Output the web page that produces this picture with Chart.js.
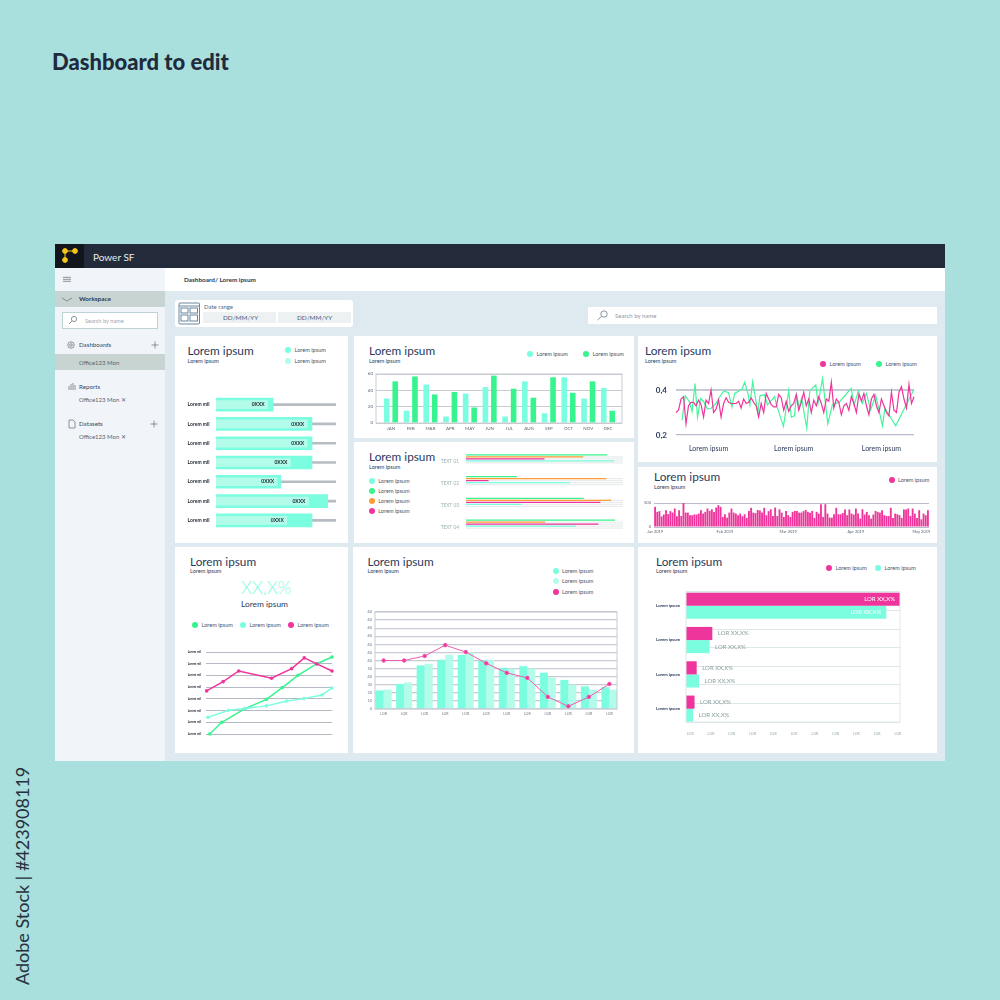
<!DOCTYPE html>
<html>
<head>
<meta charset="utf-8">
<script src="https://cdn.jsdelivr.net/npm/chart.js@4"></script>
<style>
  html, body { margin: 0; padding: 0; }
  body { width: 1000px; height: 1000px; background: #a9dfdd; position: relative; overflow: hidden; font-family: Lato, sans-serif; }
  .box { position: absolute; }
  .txt { position: absolute; white-space: nowrap; transform: translateY(-50%); line-height: 1; }
  canvas { position: absolute; }
</style>
</head>
<body>
<script>
const MINT = '#7bfde0';
const LIGHT = '#b3fcea';
const GREEN = '#38f48e';
const PINK = '#ee359c';
const ORANGE = '#ff9c38';
const NAVY = '#2b3a5c';

// panel 1
const rowLabels = ['Lorem mil', 'Lorem mil', 'Lorem mil', 'Lorem mil', 'Lorem mil', 'Lorem mil', 'Lorem mil'];
const rowOuter = [47.5, 80, 80, 80, 54, 93, 80];
const rowInner = [43, 76, 76, 62, 51, 77, 59];
const rowTrack = [100, 100, 100, 100, 100, 100, 100];

// panel 2
const months = ['JAN', 'FEB', 'MAR', 'APR', 'MAY', 'JUN', 'JUL', 'AUG', 'SEP', 'OCT', 'NOV', 'DEC'];
const monthMint = [30, 15, 47, 8, 36, 44, 8, 51, 12, 56, 30, 43];
const monthGreen = [51, 57, 35, 38, 19, 58, 42, 31, 56, 37, 51, 15];

// panel 3
const textLabels = ['TEXT 01', 'TEXT 02', 'TEXT 03', 'TEXT 04'];
const textGreen = [90, 32.5, 75, 95];
const textOrange = [74.7, 89.4, 92.4, 50.5];
const textPink = [50, 14.4, 85.6, 84.3];
const textMint = [94.5, 66.2, 35.5, 70];
const textTrack = [100, 100, 100, 100];

// panel 4
const wavePink = [
  .30, .31, .36, .37, .25, .33, .345, .345, .33, .355,
  .335, .28, .355, .34, .40, .30, .315, .355, .28, .34,
  .365, .345, .34, .34, .34, .35, .32, .36, .34, .345,
  .365, .345, .33, .28, .34, .30, .385, .36, .335, .325,
  .325, .38, .365, .31, .35, .305, .33, .34, .38, .31,
  .345, .39, .33, .36, .30, .355, .33, .37, .34, .30,
  .36, .35, .435, .32, .36, .345, .29, .33, .34, .31,
  .37, .34, .30, .38, .35, .385, .33, .29, .36, .38,
  .33, .30, .36, .33, .30, .285, .39, .31, .30, .39,
  .415, .36, .32, .425, .34, .37
];
const waveGreenX = [2.4, 3.7, 5.3, 6.4, 7.6, 8.6, 9.8, 11, 12.5, 14, 16, 17.5, 19.1, 21, 22.3, 23.4, 26.3, 27.4, 28.7, 29.5, 30.6, 32.7, 33.5, 35.3, 36.5, 38.3, 39.3, 40.1, 42.9, 45, 46, 47.3, 48.1, 49.2, 50.1, 52.2, 53.4, 55.8, 56.7, 58.5, 60.6, 62.4, 65.1, 67.1, 69.9, 71.1, 72.8, 74.4, 76, 77.7, 79.7, 82.4, 83.4, 85, 87.7, 95];
const waveGreenY = [.265, .374, .349, .304, .429, .279, .363, .349, .315, .319, .341, .371, .396, .388, .324, .385, .403, .434, .385, .334, .437, .30, .374, .379, .334, .356, .371, .334, .238, .397, .279, .285, .378, .319, .363, .231, .397, .422, .341, .451, .25, .334, .346, .371, .407, .334, .396, .341, .385, .312, .378, .241, .319, .29, .241, .403];
const waveTicks = [13, 47, 82];

// panel 5
const dailyValues = [
  420, 315, 330, 220, 260, 350, 270, 330, 300, 385, 225, 350, 230, 500, 300, 300, 245, 245, 260, 260, 280,
  350, 280, 315, 385, 335, 370, 315, 405, 455, 420, 210, 265, 195, 300, 385, 300, 280, 245, 280, 225, 265,
  190, 335, 400, 300, 290, 355, 345, 300, 400, 245, 330, 370, 230, 405, 230, 370, 300, 210, 335, 245,
  210, 315, 335, 335, 300, 300, 330, 355, 315, 295, 335, 190, 315, 280, 475, 210, 475, 280, 195, 195, 265,
  400, 265, 265, 290, 365, 245, 365, 280, 260, 385, 280, 175, 370, 260, 315, 245, 175, 260, 335, 315, 300,
  350, 245, 230, 230, 400, 190, 280, 265, 245, 190, 365, 365, 385, 230, 385, 280, 190, 350, 160, 280, 245, 350
];
const dailyTickIndex = [0, 32, 61, 92, 122];
const dailyTickLabels = ['Jan 2019', 'Feb 2019', 'Mar 2019', 'Apr 2019', 'May 2019'];

// panel 6
const trendPinkX = [.5, 13.6, 26, 52, 68, 78, 88, 100];
const trendPinkY = [3.68, 4.47, 5.38, 4.76, 5.58, 6.5, 5.98, 5.38];
const trendGreenX = [3, 12.5, 31, 48, 60.5, 73, 88, 100];
const trendGreenY = [0, 1, 2.17, 2.96, 3.96, 5.01, 6, 6.57];
const trendMintX = [1.5, 18, 31, 48, 64, 77.7, 92, 100];
const trendMintY = [1.42, 2.02, 2.17, 2.4, 2.82, 3.02, 3.33, 3.93];

// panel 7
const comboLabels = ['LOR', 'LOR', 'LOR', 'LOR', 'LOR', 'LOR', 'LOR', 'LOR', 'LOR', 'LOR', 'LOR', 'LOR'];
const comboMint = [23, 31, 54, 61, 67, 60, 51, 53, 45, 36, 28, 27];
const comboLight = [24, 33, 56, 67, 70, 61, 50, 50, 39, 30, 24, 24];
const comboPink = [60, 60, 65.6, 79, 70.5, 56.5, 44.7, 38.5, 15, 3.3, 15, 31];
const comboTicks = ['0', '10', '20', '30', '40', '50', '60', '60', '60', '60', '60', '60', '60'];

// panel 8
const shareLabels = ['Lorem ipsum', 'Lorem ipsum', 'Lorem ipsum', 'Lorem ipsum'];
const sharePink = [100, 12.3, 5, 4];
const shareMint = [93.6, 11, 6.1, 3.3];
const shareTickValues = [2, 11.7, 21.4, 31.1, 40.8, 50.5, 60.2, 69.9, 79.6, 89.3, 99];

Chart.defaults.animation = false;
Chart.defaults.responsive = false;
Chart.defaults.font.family = 'Lato, sans-serif';
Chart.defaults.plugins.legend.display = false;
Chart.defaults.plugins.tooltip.enabled = false;

const rect = (x, y, w, h, color, extra) => {
  const el = document.createElement('div');
  el.className = 'box';
  el.style.cssText = `left:${x}px;top:${y}px;width:${w}px;height:${h}px;background:${color};${extra || ''}`;
  document.body.appendChild(el);
  return el;
};

const text = (x, y, str, size, color, extra) => {
  const el = document.createElement('div');
  el.className = 'txt';
  el.textContent = str;
  el.style.cssText = `left:${x}px;top:${y}px;font-size:${size}px;color:${color};${extra || ''}`;
  document.body.appendChild(el);
  return el;
};

const heading = (x, y) => {
  text(x, y, 'Lorem ipsum', 11.8, NAVY);
  text(x, y + 9.7, 'Lorem ipsum', 5.6, NAVY);
};

const legendItem = (x, y, color) => {
  rect(x - 3, y - 3, 6, 6, color, 'border-radius:50%');
  text(x + 6.5, y, 'Lorem ipsum', 5.6, '#45566f');
};

const makeCanvas = (x, y, w, h) => {
  const canvas = document.createElement('canvas');
  canvas.width = w;
  canvas.height = h;
  canvas.style.left = x + 'px';
  canvas.style.top = y + 'px';
  canvas.style.width = w + 'px';
  canvas.style.height = h + 'px';
  document.body.appendChild(canvas);
  return canvas.getContext('2d');
};

// axis boxes get an exact size, the label overhang must not push the plot in
const clearPadding = (axis) => {
  axis.paddingLeft = axis.paddingRight = axis.paddingTop = axis.paddingBottom = 0;
};
const fixWidth = (n) => (axis) => { axis.width = n; clearPadding(axis); };
const fixHeight = (n) => (axis) => { axis.height = n; clearPadding(axis); };
const ticksAt = (values) => (axis) => { axis.ticks = values.map((value) => ({ value })); };
const indexTicks = (list) => ticksAt(list.map((_, i) => i));

const frameBox = (color) => ({
  id: 'frameBox',
  afterDatasetsDraw(chart) {
    const { ctx, chartArea: a } = chart;
    ctx.save();
    ctx.strokeStyle = color;
    ctx.lineWidth = 1;
    ctx.strokeRect(a.left, a.top, a.right - a.left, a.bottom - a.top);
    ctx.restore();
  },
});

// page frame
text(52, 62, 'Dashboard to edit', 22, '#1f2b3d', 'font-weight:900');
text(22, 976, 'Adobe Stock | #423908119', 18, '#263040', 'transform:rotate(-90deg);transform-origin:0 50%');

rect(55, 244, 890, 24, '#232b3a');
rect(55, 244, 29, 24, '#12151b');
text(93, 257, 'Power SF', 10, '#e6ebef');
rect(165, 268, 780, 23, '#ffffff');
text(184, 279.5, 'Dashboard/ Lorem ipsum', 6.4, '#2d3a4d', 'font-weight:700');
rect(165, 291, 780, 470, '#dfeaf0');
rect(55, 268, 110, 493, '#f1f5f9');
rect(55, 291, 110, 16, '#c8d4d1');
text(79, 299, 'Workspace', 6.4, '#2d3a4d', 'font-weight:700');
rect(62, 312, 96, 17, '#ffffff', 'border:1px solid #bcd3d6;box-sizing:border-box');
text(85, 320.5, 'Search by name', 5.6, '#9aa7b0');
text(79, 345, 'Dashboards', 6.2, '#37475a');
rect(55, 353.5, 110, 16.5, '#c8d4d1');
text(79, 362.5, 'Office123 Mon', 6, '#56646f');
text(79, 387, 'Reports', 6.2, '#37475a');
text(79, 399.5, 'Office123 Mon  ✕', 6, '#56646f');
text(79, 424, 'Datasets', 6.2, '#37475a');
text(79, 436.5, 'Office123 Mon  ✕', 6, '#56646f');

// date range and search
rect(175, 300, 178, 27, '#ffffff', 'border-radius:3px');
text(204, 307, 'Date range', 6, '#4a6a8c');
rect(203, 312, 73, 11, '#eef1f2');
rect(278, 312, 73, 11, '#eef1f2');
text(223, 318, 'DD/MM/YY', 6.4, '#486080');
text(297, 318, 'DD/MM/YY', 6.4, '#486080');
rect(588, 307, 349, 17, '#ffffff');
text(615, 315.5, 'Search by name', 6, '#8c98a6');

// panels
rect(175, 336, 173, 207, '#ffffff');
rect(354, 336, 280, 102, '#ffffff');
rect(354, 442, 280, 101, '#ffffff');
rect(638, 336, 299, 126, '#ffffff');
rect(638, 467, 299, 76, '#ffffff');
rect(175, 547, 173, 206, '#ffffff');
rect(353, 547, 281, 206, '#ffffff');
rect(638, 547, 299, 206, '#ffffff');

// small icons
const ns = 'http://www.w3.org/2000/svg';
const icons = document.createElementNS(ns, 'svg');
icons.setAttribute('width', 1000);
icons.setAttribute('height', 1000);
icons.style.cssText = 'position:absolute;left:0;top:0';
icons.innerHTML = `
  <g fill="#f5c518" stroke="#f5c518"><path d="M65 251H75M65 251V260" stroke-width="1" fill="none"/><circle cx="65" cy="251" r="2.4"/><circle cx="75" cy="251" r="2.4"/><circle cx="65" cy="260" r="2.4"/></g>
  <g stroke="#6f7b86" fill="none" stroke-width="0.8">
    <path d="M63 277.3H71M63 279.3H71M63 281.3H71"/>
    <path d="M62 298L67 301L72 298"/>
    <circle cx="74" cy="319" r="2.6"/><path d="M72 321L69 324"/>
    <circle cx="71" cy="345" r="3.2"/><circle cx="71" cy="345" r="1.3"/>
    <path d="M155 341.5V348.5M151.5 345H158.5M154 420.5V427.5M150.5 424H157.5"/>
    <path d="M69 390V386M71 390V384M73 390V383M75 390V385"/>
    <path d="M69 420H73L75 422V428H69Z"/>
    <circle cx="604" cy="314" r="3.2"/><path d="M601.5 316.5L597.5 320"/>
  </g>
  <g stroke="#5b7a95" fill="none" stroke-width="0.9">
    <rect x="179" y="303" width="20.5" height="21" rx="1"/><path d="M179 306H199.5"/>
    <rect x="181" y="308" width="7" height="5"/><rect x="190" y="308" width="7.5" height="5"/>
    <rect x="181" y="315" width="7" height="6"/><rect x="190" y="315" width="7.5" height="6"/>
  </g>`;
document.body.appendChild(icons);

// panel titles and legends
heading(187.5, 351);
legendItem(288, 350, MINT);
legendItem(288, 361, LIGHT);

heading(369, 351);
legendItem(530, 353.5, MINT);
legendItem(586, 353.5, GREEN);

heading(369, 457);
legendItem(371.7, 481, MINT);
legendItem(371.7, 491, GREEN);
legendItem(371.7, 501, ORANGE);
legendItem(371.7, 511, PINK);

heading(645, 351);
legendItem(823, 363.5, PINK);
legendItem(879, 363.5, GREEN);

heading(654, 477);
legendItem(891.5, 479.5, PINK);

heading(190, 561.5);
text(241, 588, 'XX,X%', 17.5, MINT, 'font-weight:300');
text(241, 603.5, 'Lorem ipsum', 8.4, NAVY);
legendItem(195, 625, GREEN);
legendItem(243, 625, MINT);
legendItem(291, 625, PINK);

heading(367.5, 561.5);
legendItem(555.5, 571, MINT);
legendItem(555.5, 581, LIGHT);
legendItem(555.5, 591.5, PINK);

heading(656, 561.5);
legendItem(829, 567.5, PINK);
legendItem(878, 567.5, MINT);

// panel 1: horizontal progress bars
new Chart(makeCanvas(180, 395, 156, 135), {
  type: 'bar',
  data: {
    labels: rowLabels,
    datasets: [
      { data: rowInner, backgroundColor: LIGHT, barThickness: 8 },
      { data: rowOuter, backgroundColor: MINT, barThickness: 13 },
      { data: rowTrack, backgroundColor: '#b7bcc3', barThickness: 2 },
    ],
  },
  options: {
    indexAxis: 'y',
    grouped: false,
    scales: {
      x: { display: false, min: 0, max: 100 },
      y: {
        afterFit: fixWidth(36),
        grid: { display: false, drawTicks: false },
        border: { display: false },
        ticks: { padding: 6.5, font: { size: 5, weight: 'bold' }, color: '#1d2430' },
      },
    },
  },
  plugins: [{
    id: 'innerLabels',
    afterDatasetsDraw(chart) {
      const { ctx } = chart;
      ctx.save();
      ctx.font = 'bold 5px Lato';
      ctx.fillStyle = '#1d2430';
      ctx.textAlign = 'right';
      ctx.textBaseline = 'middle';
      chart.getDatasetMeta(0).data.forEach((bar) => ctx.fillText('0XXX', bar.x - 3, bar.y));
      ctx.restore();
    },
  }],
});

// panel 2: monthly grouped bars
new Chart(makeCanvas(360, 370, 264, 64), {
  type: 'bar',
  data: {
    datasets: [
      { data: monthMint.map((v, i) => ({ x: i, y: v })), backgroundColor: MINT },
      { data: monthGreen.map((v, i) => ({ x: i, y: v })), backgroundColor: GREEN },
    ],
  },
  options: {
    barPercentage: 0.66,
    categoryPercentage: 0.86,
    layout: { padding: { top: 4, right: 2 } },
    scales: {
      x: {
        type: 'linear', offset: false, min: -0.76, max: 11.71,
        afterBuildTicks: indexTicks(months),
        afterFit: fixHeight(11),
        grid: { display: false, drawTicks: false },
        border: { display: false },
        ticks: { autoSkip: false, maxRotation: 0, padding: 3, font: { size: 4.5 }, color: '#5b6774', callback: (v) => months[v] },
      },
      y: {
        min: 0, max: 60,
        afterFit: fixWidth(16),
        grid: { color: '#c8ccd1', drawTicks: false },
        border: { display: false },
        ticks: { stepSize: 10, padding: 3, font: { size: 4.5 }, color: '#5b6774' },
      },
    },
  },
  plugins: [frameBox('#c8ccd1')],
});

// panel 3: four thin bars per group over grey tracks
const trackSet = (n) => ({ data: textTrack, yAxisID: 'y2', order: 1, backgroundColor: '#e9ecec', label: 'track' + n });
new Chart(makeCanvas(438, 451, 185, 87), {
  type: 'bar',
  data: {
    labels: textLabels,
    datasets: [
      { data: textGreen, backgroundColor: GREEN, order: 0 },
      { data: textOrange, backgroundColor: ORANGE, order: 0 },
      { data: textPink, backgroundColor: PINK, order: 0 },
      { data: textMint, backgroundColor: MINT, order: 0 },
      trackSet(1), trackSet(2), trackSet(3), trackSet(4),
    ],
  },
  options: {
    indexAxis: 'y',
    barPercentage: 0.58,
    categoryPercentage: 0.74,
    scales: {
      x: { display: false, min: 0, max: 100 },
      y: {
        afterFit: fixWidth(28),
        grid: { display: false, drawTicks: false },
        border: { display: false },
        ticks: { padding: 7, font: { size: 4.8 }, color: '#9db2b2' },
      },
      y2: { axis: 'y', type: 'category', offset: true, display: false },
    },
  },
});

// panel 4: two noisy lines
new Chart(makeCanvas(640, 375, 276, 80), {
  type: 'line',
  data: {
    datasets: [
      { data: wavePink.map((v, i) => ({ x: i, y: v })), borderColor: PINK, borderWidth: 1.2, pointRadius: 0, clip: false },
      { data: waveGreenX.map((x, i) => ({ x, y: waveGreenY[i] })), borderColor: '#45f59b', borderWidth: 1.2, pointRadius: 0, clip: false },
    ],
  },
  options: {
    layout: { padding: { top: 3, right: 2 } },
    scales: {
      x: {
        type: 'linear', min: 0, max: 95,
        afterBuildTicks: ticksAt(waveTicks),
        afterFit: fixHeight(20),
        grid: { display: false, drawTicks: false },
        border: { display: false },
        ticks: { autoSkip: false, maxRotation: 0, padding: 10, font: { size: 7 }, color: NAVY, callback: () => 'Lorem ipsum' },
      },
      y: {
        min: 0.2, max: 0.4533,
        afterBuildTicks: ticksAt([0.2, 0.4]),
        afterFit: fixWidth(36),
        grid: {
          drawTicks: false,
          color: (c) => (c.tick.value > 0.3 ? '#c6cad7' : '#b7bbcc'),
          lineWidth: (c) => (c.tick.value > 0.3 ? 2 : 1.2),
        },
        border: { display: false },
        ticks: { padding: 9, font: { size: 8, weight: 'bold' }, color: NAVY, callback: (v) => String(v).replace('.', ',') },
      },
    },
  },
});

// panel 5: daily bars
new Chart(makeCanvas(640, 500, 292, 36), {
  type: 'bar',
  data: {
    labels: dailyValues.map((v, i) => dailyTickLabels[dailyTickIndex.indexOf(i)] || ''),
    datasets: [{ data: dailyValues, backgroundColor: PINK, barPercentage: 0.85, categoryPercentage: 1 }],
  },
  options: {
    layout: { padding: { top: 3, right: 3 } },
    scales: {
      x: {
        afterFit: fixHeight(9),
        grid: { display: false, drawTicks: false },
        border: { display: false },
        ticks: { autoSkip: false, maxRotation: 0, padding: 2, font: { size: 4 }, color: '#5b6774' },
      },
      y: {
        min: 0, max: 500,
        afterFit: fixWidth(14),
        grid: { color: '#b9bdcd', drawTicks: false },
        border: { display: false },
        ticks: { stepSize: 500, padding: 3, font: { size: 4 }, color: '#5b6774' },
      },
    },
  },
});

// panel 6: three lines with markers
const trendLine = (xs, ys, color) => ({
  data: xs.map((x, i) => ({ x, y: ys[i] })),
  borderColor: color, backgroundColor: color, borderWidth: 1.5, pointRadius: 1.8, pointBorderWidth: 0, clip: false,
});
new Chart(makeCanvas(180, 648, 156, 90), {
  type: 'line',
  data: {
    datasets: [
      trendLine(trendPinkX, trendPinkY, PINK),
      trendLine(trendMintX, trendMintY, MINT),
      trendLine(trendGreenX, trendGreenY, GREEN),
    ],
  },
  options: {
    layout: { padding: { top: 4, right: 3, bottom: 4 } },
    scales: {
      x: { type: 'linear', display: false, min: 0, max: 100 },
      y: {
        min: 0, max: 7,
        afterFit: fixWidth(26),
        grid: { color: '#b5b9c2', lineWidth: 1, drawTicks: false },
        border: { display: false },
        ticks: { stepSize: 1, padding: 5, font: { size: 3, weight: 'bold' }, color: '#1d2430', callback: () => 'Lorem mil' },
      },
    },
  },
});

// panel 7: grouped bars with a line on top
new Chart(makeCanvas(360, 607, 262, 112), {
  type: 'bar',
  data: {
    datasets: [
      { type: 'line', data: comboPink.map((v, i) => ({ x: i, y: v })), borderColor: '#f25bb0', backgroundColor: PINK, borderWidth: 1, pointRadius: 1.8, order: 0 },
      { data: comboMint.map((v, i) => ({ x: i, y: v })), backgroundColor: MINT, order: 1 },
      { data: comboLight.map((v, i) => ({ x: i, y: v })), backgroundColor: LIGHT, order: 1 },
    ],
  },
  options: {
    barPercentage: 1,
    categoryPercentage: 0.78,
    layout: { padding: { top: 4, right: 3 } },
    scales: {
      x: {
        type: 'linear', offset: false, min: -0.42, max: 11.37,
        afterBuildTicks: indexTicks(comboLabels),
        afterFit: fixHeight(10),
        grid: { display: false, drawTicks: false },
        border: { display: false },
        ticks: { autoSkip: false, maxRotation: 0, padding: 3, font: { size: 3.6 }, color: '#6c7886', callback: (v) => comboLabels[v] },
      },
      y: {
        min: 0, max: 120,
        afterFit: fixWidth(15),
        grid: { color: '#c8cbd4', lineWidth: 1.2, drawTicks: false },
        border: { display: false },
        ticks: { stepSize: 10, padding: 3, font: { size: 3.8 }, color: '#6c7886', callback: (v) => comboTicks[v / 10] },
      },
    },
  },
  plugins: [frameBox('#c6cad2')],
});

// panel 8: paired horizontal bars
new Chart(makeCanvas(650, 588, 252, 152), {
  type: 'bar',
  data: {
    datasets: [
      { data: sharePink.map((v, i) => ({ x: v, y: i })), backgroundColor: PINK },
      { data: shareMint.map((v, i) => ({ x: v, y: i })), backgroundColor: MINT },
    ],
  },
  options: {
    indexAxis: 'y',
    barPercentage: 1,
    categoryPercentage: 0.765,
    layout: { padding: { top: 4, right: 2 } },
    scales: {
      x: {
        type: 'linear', min: 0, max: 100,
        afterBuildTicks: ticksAt(shareTickValues),
        afterFit: fixHeight(18),
        grid: { display: false, drawTicks: false },
        border: { display: false },
        ticks: { autoSkip: false, maxRotation: 0, padding: 10, font: { size: 3.6 }, color: '#93a6a6', callback: () => 'LOR' },
      },
      y: {
        type: 'linear', offset: false, reverse: true, min: -0.4, max: 3.387,
        afterBuildTicks: indexTicks(shareLabels),
        afterFit: fixWidth(36),
        grid: { display: false, drawTicks: false },
        border: { display: false },
        ticks: { autoSkip: false, padding: 6, font: { size: 4.2, weight: 'bold' }, color: NAVY, callback: (v) => shareLabels[v] },
      },
      y2: {
        axis: 'y', type: 'linear', position: 'right', min: 0, max: 6,
        afterFit: fixWidth(0),
        grid: { color: '#dfe8e8', drawTicks: false },
        border: { display: false },
        ticks: { display: false, stepSize: 1 },
      },
    },
  },
  plugins: [frameBox('#dfe8e8'), {
    id: 'shareLabels',
    afterDatasetsDraw(chart) {
      const { ctx } = chart;
      ctx.save();
      ctx.font = '6px Lato';
      ctx.textBaseline = 'middle';
      [0, 1].forEach((ds) => {
        chart.getDatasetMeta(ds).data.forEach((bar, i) => {
          const big = (ds === 0 ? sharePink[i] : shareMint[i]) > 50;
          ctx.fillStyle = big ? '#ffffff' : '#8aa09e';
          ctx.textAlign = big ? 'right' : 'left';
          ctx.fillText('LOR XX,X%', big ? bar.x - 5 : bar.x + 5.5, bar.y);
        });
      });
      ctx.restore();
    },
  }],
});
</script>
</body>
</html>
